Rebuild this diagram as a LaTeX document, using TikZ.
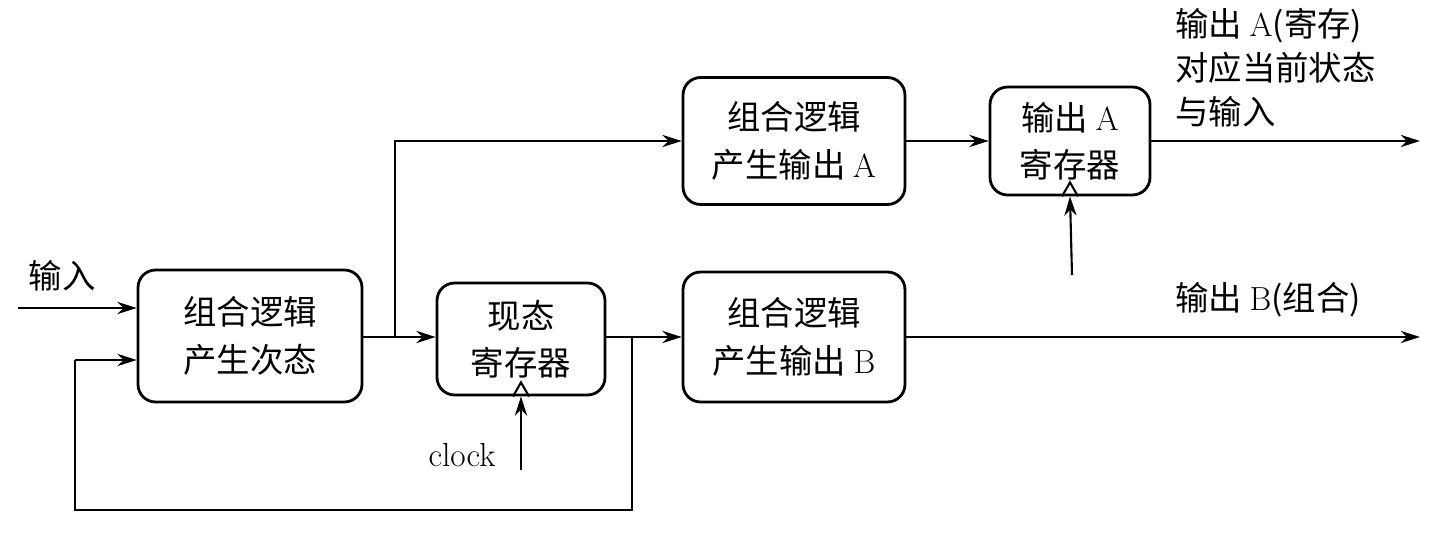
\documentclass[tikz,border=0pt]{standalone}
\usepackage{fontspec}
\newfontfamily\cjk{Noto Sans CJK SC}
\usetikzlibrary{arrows.meta}
\begin{document}
\begin{tikzpicture}[x=0.02cm,y=-0.02cm,
  box/.style={draw,line width=1.6pt,rounded corners=10pt,align=center,font=\fontsize{19}{27}\selectfont\cjk,inner sep=0pt},
  lab/.style={font=\fontsize{19}{25}\selectfont\cjk,inner sep=0pt},
  ar/.style={line width=1.2pt,-{Stealth[length=11pt,width=7pt]}},
  ln/.style={line width=1.2pt}]
\useasboundingbox (0,0) rectangle (1448,541);
\node[box,minimum width=4.48cm,minimum height=2.64cm] (b1) at (250,336) {组合逻辑\\产生次态};
\node[box,minimum width=3.36cm,minimum height=2.24cm] (b2) at (521,339) {现态\\寄存器};
\node[box,minimum width=4.44cm,minimum height=2.54cm] (b3) at (794,141) {组合逻辑\\产生输出 {\rmfamily A}};
\node[box,minimum width=4.44cm,minimum height=2.6cm] (b4) at (794,337) {组合逻辑\\产生输出 {\rmfamily B}};
\node[box,minimum width=3.2cm,minimum height=2.16cm] (b5) at (1070,141) {输出 {\rmfamily A}\\寄存器};
% triangles
\draw[ln] ([xshift=-0.16cm]b2.south) -- ([yshift=0.28cm]b2.south) -- ([xshift=0.16cm]b2.south);
\draw[ln] ([xshift=-0.16cm]b5.south) -- ([yshift=0.28cm]b5.south) -- ([xshift=0.16cm]b5.south);
% coordinates
\coordinate (in) at (18,308);
\coordinate (br) at (395,337);
\coordinate (fb) at (632,337);
\coordinate (clk) at (521,470);
\coordinate (clk2) at (1072,275);
\coordinate (oa) at (1420,141);
\coordinate (ob) at (1420,337);
\coordinate (fl) at (75,360);
\draw[ar] (in) -- (in -| b1.west);
\draw[ar] (b1.east |- br) -- (b2.west |- br);
\draw[ar] (br) |- (b3.west);
\draw[ar] (b2.east |- fb) -- (b4.west |- fb);
\draw[ln] (fb) -- (632,510) -- (75,510) -- (fl);
\draw[ar] (fl) -- (fl -| b1.west);
\draw[ar] (b3.east) -- (b5.west);
\draw[ar] (b5.east) -- (oa);
\draw[ar] (b4.east |- ob) -- (ob);
\draw[ar] (clk) -- (b2.south);
\draw[ar] (clk2) -- (b5.south);
\node[lab] (tin) at (62,276) {输入};
\node[font=\fontsize{19}{25}\selectfont,inner sep=0pt] (tclk) at (462,455) {clock};
\node[lab,anchor=north west,align=left] (toa) at (1175,8) {输出 {\rmfamily A}(寄存)\\对应当前状态\\与输入};
\node[lab,anchor=west] (tob) at (1175,300) {输出 {\rmfamily B}(组合)};
\end{tikzpicture}
\end{document}
